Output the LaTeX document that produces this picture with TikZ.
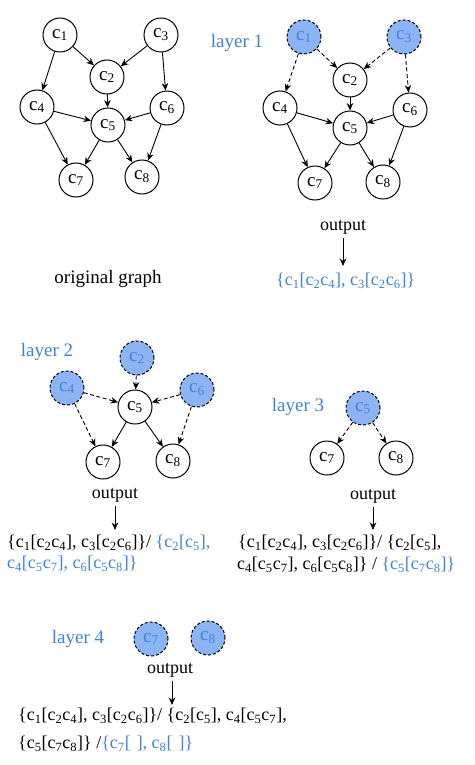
\documentclass[tikz,border=0pt]{standalone}
\usepackage{fontspec}
\setmainfont{Liberation Serif}
\usepackage{tikz}
\usetikzlibrary{arrows.meta}
\definecolor{layerblue}{RGB}{66,128,218}
\definecolor{donefill}{RGB}{140,180,244}
\newcommand{\ci}[1]{c\textsubscript{#1}}
\newcommand{\bl}[1]{\textcolor{layerblue}{#1}}

\begin{document}
\begin{tikzpicture}
[x=1pt,y=-1pt,
every node/.style={font=\fontsize{18}{21}\selectfont},
vertex/.style={circle,draw,line width=1pt,minimum size=34pt,inner sep=0pt,
font=\fontsize{19}{22}\selectfont},
done/.style={vertex,dash pattern=on 3pt off 2pt,fill=donefill,text=layerblue},
arc/.style={-{Stealth[length=7.5pt,width=6.5pt]},line width=0.9pt},
darc/.style={arc,dash pattern=on 4pt off 2.5pt},
lab/.style={text=layerblue,font=\fontsize{19}{22}\selectfont},
outline/.style={anchor=west,inner sep=0pt}]
\useasboundingbox (0,0) rectangle (474,765);
\node[vertex] (a1) at (60,35) {\ci{1}};
\node[vertex] (a3) at (161,35) {\ci{3}};
\node[vertex] (a2) at (107,77) {\ci{2}};
\node[vertex] (a4) at (37,107) {\ci{4}};
\node[vertex] (a5) at (108,125) {\ci{5}};
\node[vertex] (a6) at (167,108) {\ci{6}};
\node[vertex] (a7) at (76,180) {\ci{7}};
\node[vertex] (a8) at (142,177) {\ci{8}};
\draw[arc] (a1) -- (a4);
\draw[arc] (a1) -- (a2);
\draw[arc] (a3) -- (a2);
\draw[arc] (a3) -- (a6);
\draw[arc] (a2) -- (a5);
\draw[arc] (a4) -- (a5);
\draw[arc] (a6) -- (a5);
\draw[arc] (a4) -- (a7);
\draw[arc] (a5) -- (a7);
\draw[arc] (a5) -- (a8);
\draw[arc] (a6) -- (a8);
\node[font=\fontsize{19}{22}\selectfont] (orig) at (108,279) {original graph};

\node[lab] (l1) at (237,43) {layer 1};
\node[done] (b1) at (304,37) {\ci{1}};
\node[done] (b3) at (404,37) {\ci{3}};
\node[vertex] (b2) at (350,80) {\ci{2}};
\node[vertex] (b4) at (280,108) {\ci{4}};
\node[vertex] (b5) at (350,128) {\ci{5}};
\node[vertex] (b6) at (410,110) {\ci{6}};
\node[vertex] (b7) at (315,183) {\ci{7}};
\node[vertex] (b8) at (383,182) {\ci{8}};
\draw[darc] (b1) -- (b4);
\draw[darc] (b1) -- (b2);
\draw[darc] (b3) -- (b2);
\draw[darc] (b3) -- (b6);
\draw[arc] (b2) -- (b5);
\draw[arc] (b4) -- (b5);
\draw[arc] (b6) -- (b5);
\draw[arc] (b4) -- (b7);
\draw[arc] (b5) -- (b7);
\draw[arc] (b5) -- (b8);
\draw[arc] (b6) -- (b8);
\node (out1) at (343,227) {output};
\coordinate (end1) at (343,266);
\draw[arc] (out1) -- (end1);
\node[outline] (set1) at (276,281) {\bl{\{\ci{1}[\ci{2}\ci{4}], \ci{3}[\ci{2}\ci{6}]\}}};

\node[lab] (l2) at (47,352) {layer 2};
\node[done] (d2) at (137,358) {\ci{2}};
\node[done] (d4) at (67,388) {\ci{4}};
\node[vertex] (d5) at (135,407) {\ci{5}};
\node[done] (d6) at (197,390) {\ci{6}};
\node[vertex] (d7) at (103,462) {\ci{7}};
\node[vertex] (d8) at (173,461) {\ci{8}};
\draw[darc] (d2) -- (d5);
\draw[darc] (d4) -- (d5);
\draw[darc] (d4) -- (d7);
\draw[darc] (d6) -- (d5);
\draw[darc] (d6) -- (d8);
\draw[arc] (d5) -- (d7);
\draw[arc] (d5) -- (d8);
\node (out2) at (115,495) {output};
\coordinate (end2) at (115,530);
\draw[arc] (out2) -- (end2);
\node[outline] (set2a) at (7,543) {\{\ci{1}[\ci{2}\ci{4}], \ci{3}[\ci{2}\ci{6}]\}/ \bl{\{\ci{2}[\ci{5}],}};
\node[outline] (set2b) at (7,564) {\bl{\ci{4}[\ci{5}\ci{7}], \ci{6}[\ci{5}\ci{8}]\}}};

\node[lab] (l3) at (298,407) {layer 3};
\node[done] (e5) at (363,408) {\ci{5}};
\node[vertex] (e7) at (327,458) {\ci{7}};
\node[vertex] (e8) at (396,458) {\ci{8}};
\draw[darc] (e5) -- (e7);
\draw[darc] (e5) -- (e8);
\node (out3) at (373,496) {output};
\coordinate (end3) at (373,530);
\draw[arc] (out3) -- (end3);
\node[outline] (set3a) at (238,543) {\{\ci{1}[\ci{2}\ci{4}], \ci{3}[\ci{2}\ci{6}]\}/ \{\ci{2}[\ci{5}],};
\node[outline] (set3b) at (237,565) {\ci{4}[\ci{5}\ci{7}], \ci{6}[\ci{5}\ci{8}]\} / \bl{\{\ci{5}[\ci{7}\ci{8}]\}}};

\node[lab] (l4) at (78,639) {layer 4};
\node[done] (f7) at (151,639) {\ci{7}};
\node[done] (f8) at (208,638) {\ci{8}};
\node (out4) at (170,670) {output};
\coordinate (end4) at (172,705);
\draw[arc] (out4.south -| end4) -- (end4);
\node[outline] (set4a) at (18,716) {\{\ci{1}[\ci{2}\ci{4}], \ci{3}[\ci{2}\ci{6}]\}/ \{\ci{2}[\ci{5}], \ci{4}[\ci{5}\ci{7}],};
\node[outline] (set4b) at (18,744) {\{\ci{5}[\ci{7}\ci{8}]\} /\bl{\{\ci{7}[\,\,], \ci{8}[\,\,]\}}};
\end{tikzpicture}
\end{document}
